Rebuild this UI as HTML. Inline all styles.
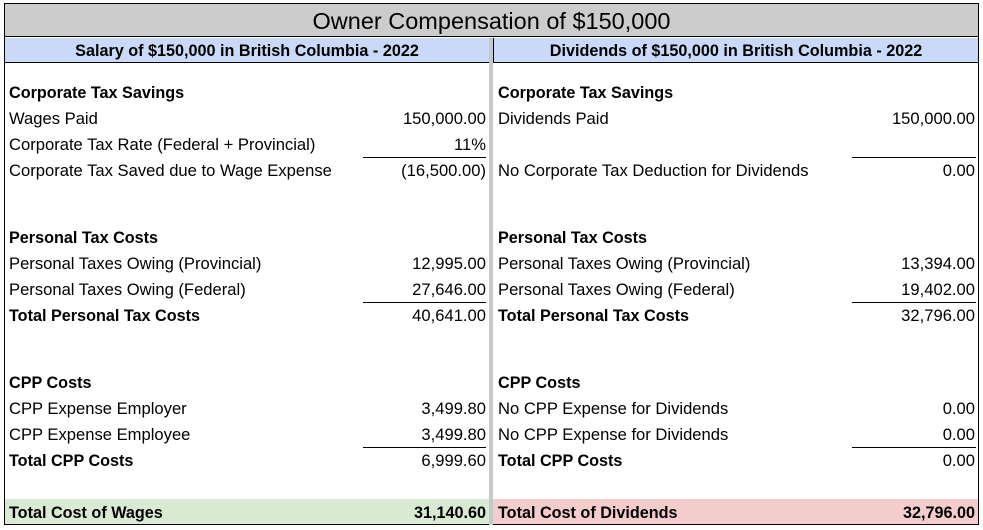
<!DOCTYPE html>
<html><head><style>
body{margin:0;width:983px;height:530px;background:#fff;font-family:"Liberation Sans",Arial,sans-serif;position:relative;overflow:hidden}
div{position:absolute;box-sizing:border-box}
.t{font-size:16.6px;color:#000;line-height:18px;white-space:nowrap}
.b{font-weight:bold;font-size:16.2px}
.l{left:9px}.r{left:498px}
.vl{right:497px;text-align:right}.vr{right:8px;text-align:right}
.ul{height:1px;background:#000}
</style></head><body>
<div style="left:4px;top:3px;width:975px;height:522px;border:1px solid #000"></div>
<div style="left:5px;top:4px;width:973px;height:33px;background:#ccc;border-bottom:1px solid #000;font-size:23.5px;text-align:center;line-height:35px">Owner Compensation of $150,000</div>
<div style="left:5px;top:38px;width:484px;height:25px;background:#c9daf8;border-bottom:1px solid #000;font-size:16.2px;font-weight:bold;text-align:center;line-height:26px">Salary of $150,000 in British Columbia - 2022</div>
<div style="left:493px;top:38px;width:485px;height:25px;background:#c9daf8;border-bottom:1px solid #000;border-left:1px solid #000;font-size:16.2px;font-weight:bold;text-align:center;line-height:26px">Dividends of $150,000 in British Columbia - 2022</div>
<div style="left:489px;top:38px;width:4px;height:487px;background:#c8c8c8"></div>
<div style="left:5px;top:499px;width:484px;height:25px;background:#d9ead3"></div>
<div style="left:493px;top:499px;width:485px;height:25px;background:#f4cccc"></div>

<div class="t b l" style="top:84px">Corporate Tax Savings</div>
<div class="t l" style="top:110px">Wages Paid</div><div class="t vl" style="top:110px">150,000.00</div>
<div class="t l" style="top:136px">Corporate Tax Rate (Federal + Provincial)</div><div class="t vl" style="top:136px">11%</div>
<div class="ul" style="left:363px;width:123px;top:157px"></div>
<div class="t l" style="top:162px">Corporate Tax Saved due to Wage Expense</div><div class="t vl" style="top:162px">(16,500.00)</div>
<div class="t b l" style="top:229px">Personal Tax Costs</div>
<div class="t l" style="top:255px">Personal Taxes Owing (Provincial)</div><div class="t vl" style="top:255px">12,995.00</div>
<div class="t l" style="top:281px">Personal Taxes Owing (Federal)</div><div class="t vl" style="top:281px">27,646.00</div>
<div class="ul" style="left:363px;width:123px;top:302px"></div>
<div class="t b l" style="top:307px">Total Personal Tax Costs</div><div class="t vl" style="top:307px">40,641.00</div>
<div class="t b l" style="top:374px">CPP Costs</div>
<div class="t l" style="top:400px">CPP Expense Employer</div><div class="t vl" style="top:400px">3,499.80</div>
<div class="t l" style="top:426px">CPP Expense Employee</div><div class="t vl" style="top:426px">3,499.80</div>
<div class="ul" style="left:363px;width:123px;top:447px"></div>
<div class="t b l" style="top:452px">Total CPP Costs</div><div class="t vl" style="top:452px">6,999.60</div>
<div class="t b l" style="top:504px">Total Cost of Wages</div><div class="t b vl" style="top:504px">31,140.60</div>

<div class="t b r" style="top:84px">Corporate Tax Savings</div>
<div class="t r" style="top:110px">Dividends Paid</div><div class="t vr" style="top:110px">150,000.00</div>
<div class="ul" style="left:852px;width:124px;top:157px"></div>
<div class="t r" style="top:162px">No Corporate Tax Deduction for Dividends</div><div class="t vr" style="top:162px">0.00</div>
<div class="t b r" style="top:229px">Personal Tax Costs</div>
<div class="t r" style="top:255px">Personal Taxes Owing (Provincial)</div><div class="t vr" style="top:255px">13,394.00</div>
<div class="t r" style="top:281px">Personal Taxes Owing (Federal)</div><div class="t vr" style="top:281px">19,402.00</div>
<div class="ul" style="left:852px;width:124px;top:302px"></div>
<div class="t b r" style="top:307px">Total Personal Tax Costs</div><div class="t vr" style="top:307px">32,796.00</div>
<div class="t b r" style="top:374px">CPP Costs</div>
<div class="t r" style="top:400px">No CPP Expense for Dividends</div><div class="t vr" style="top:400px">0.00</div>
<div class="t r" style="top:426px">No CPP Expense for Dividends</div><div class="t vr" style="top:426px">0.00</div>
<div class="ul" style="left:852px;width:124px;top:447px"></div>
<div class="t b r" style="top:452px">Total CPP Costs</div><div class="t vr" style="top:452px">0.00</div>
<div class="t b r" style="top:504px">Total Cost of Dividends</div><div class="t b vr" style="top:504px">32,796.00</div>
</body></html>
